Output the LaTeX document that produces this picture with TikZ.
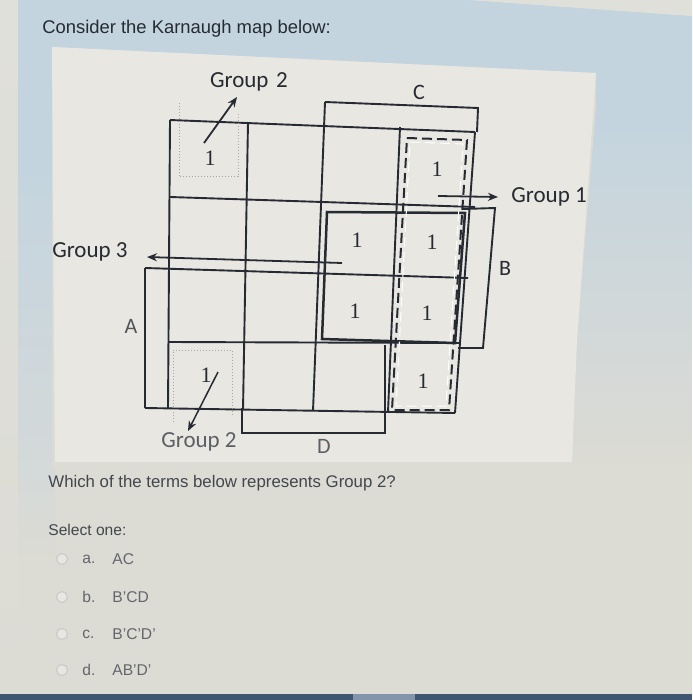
\documentclass[tikz,border=0pt]{standalone}
\usepackage{fontspec}
\setmainfont{Liberation Sans}
\newfontfamily\calfont{Carlito}
\newfontfamily\serfont{Liberation Serif}
\usetikzlibrary{arrows.meta}
\definecolor{ink}{HTML}{262B33}
\definecolor{pagegray}{HTML}{DCDBD4}
\definecolor{panel}{HTML}{E8E7E1}
\definecolor{skyblue}{HTML}{C3D4DF}
\definecolor{fadeblue}{HTML}{D4D9D9}
\definecolor{lightstrip}{HTML}{E0E0DB}
\definecolor{barblue}{HTML}{3E5671}
\definecolor{barlight}{HTML}{8295AA}
\definecolor{optgray}{HTML}{63676D}
\definecolor{qgray}{HTML}{42474E}
\tikzset{
  gline/.style={draw=ink, line width=0.95pt},
  gbox/.style={draw=ink, line width=1.25pt},
  dotbox/.style={draw=gray!70, line width=0.5pt, densely dotted},
  dashbox/.style={draw=ink, line width=1pt, dash pattern=on 5pt off 2.5pt},
  one/.style={font=\serfont\fontsize{11}{11}\selectfont, text=ink, inner sep=0pt},
  lbl/.style={font=\calfont\fontsize{11}{11}\selectfont, text=ink, inner sep=0pt},
  glbl/.style={font=\calfont\fontsize{11.5}{11.5}\selectfont, text=ink, inner sep=0pt},
  arr/.style={draw=ink, line width=0.9pt, -{Stealth[length=5pt,width=4pt]}},
  opt/.style={font=\fontsize{7.8}{8}\selectfont, text=optgray, inner sep=0pt, anchor=west},
  radio/.style={draw=gray!40, line width=0.6pt, fill=panel}
}
\begin{document}
\begin{tikzpicture}[x=0.5pt,y=-0.5pt]
\useasboundingbox (0,0) rectangle (692,700);
% background
\fill[pagegray] (0,0) rectangle (692,700);
\shade[top color=lightstrip, bottom color=pagegray] (0,0) rectangle (18,694);
\fill[skyblue] (18,0) -- (470,0) -- (692,16) -- (692,120) -- (596,110) -- (596,73) -- (52,47) -- (52,150) -- (18,150) -- cycle;
\shade[top color=skyblue, bottom color=fadeblue] (18,148) rectangle (52,470);
\shade[top color=fadeblue, bottom color=pagegray] (18,469) rectangle (55,560);
\shade[top color=skyblue, bottom color=pagegray] (596,108) -- (692,118) -- (692,470) -- (570,470) -- (577,340) -- cycle;
\fill[lightstrip] (470,0) -- (692,0) -- (692,16) -- cycle;
\fill[panel] (52,47) -- (596,73) -- (577,340) -- (572,462) -- (55,462) -- cycle;
\fill[barblue] (0,694) rectangle (692,700);
\fill[barlight] (353,694) rectangle (415,700);

% title
\node[font=\fontsize{9.2}{10}\selectfont, text=ink, anchor=west, inner sep=0pt] (title) at (42,29) {Consider the Karnaugh map below:};

% grid
\draw[gline] (170,120) -- (168,408);
\draw[gline] (248,122) -- (243,410);
\draw[gline] (325,102) -- (313,411);
\draw[gline] (400,127) -- (388,412);
\draw[gline] (475,132) -- (455,413);
\draw[gline] (170,120) -- (475,132);
\draw[gline] (170,197) -- (475,207);
\draw[gline] (145,268) -- (468,278);
\draw[gline] (168,342) -- (460,343);
\draw[gline] (145,408) -- (455,413);

% C box
\draw[gline] (325,102) -- (478,108) -- (477,132);
% A box
\draw[gline] (145,268) -- (145,408);
% B box
\draw[gline] (463,209) -- (495,208) -- (483,348) -- (458,348);
% D box
\draw[gline] (242,408) -- (242,433) -- (385,433) -- (385,345);

% Group 3 box
\draw[gbox] (327,212) -- (465,213) -- (455,343) -- (322,339) -- cycle;

% Group 1 dashed box
\draw[dashbox] (407,138) -- (467,140) -- (449,410) -- (392,410) -- cycle;
\draw[draw=white, line width=0.5pt, dash pattern=on 5pt off 2.5pt] (410,142) -- (463,144) -- (446,406) -- (396,406) -- cycle;

% Group 2 dotted boxes
\draw[dotbox] (179,103) -- (179,177) -- (238,177) -- (238,113);
\draw[dotbox] (173,422) -- (173,350) -- (232,350) -- (232,416);

% ones
\node[one] (o11) at (210,158) {1};
\node[one] (o14) at (437,169) {1};
\node[one] (o23) at (357,240) {1};
\node[one] (o24) at (432,242) {1};
\node[one] (o33) at (355,311) {1};
\node[one] (o34) at (427,313) {1};
\node[one] (o44) at (423,381) {1};
\node[one] (o41) at (206,375) {1};

% labels
\node[glbl] (g2t) at (249,82) {Group\,\,2};
\node[glbl, text=ink!75] (g2b) at (199,442) {Group 2};
\node[glbl, anchor=west] (g1) at (511,197) {Group 1};
\node[glbl, anchor=east] (g3) at (128,252) {Group 3};
\node[lbl] (lc) at (419,92) {C};
\node[lbl] (lb) at (505,268) {B};
\node[lbl, text=ink!80] (la) at (131,326) {A};
\node[lbl, text=ink!75] (ld) at (324,446) {D};

% arrows
\coordinate (a2s) at (204,143);
\coordinate (a2e) at (237,97);
\draw[arr] (a2s) -- (a2e);
\coordinate (b2s) at (218,372);
\coordinate (b2e) at (188,431);
\draw[arr, line width=0.75pt] (b2s) -- (b2e);
\coordinate (a1s) at (438,196);
\coordinate (a1e) at (498,197);
\draw[arr] (a1s) -- (a1e);
\coordinate (a3s) at (342,263);
\coordinate (a3e) at (147,257);
\draw[arr] (a3s) -- (a3e);

% question
\node[font=\fontsize{8.4}{9}\selectfont, text=qgray, anchor=west, inner sep=0pt] (q) at (48,483) {Which of the terms below represents Group 2?};
\node[font=\fontsize{7.8}{8}\selectfont, text=qgray, anchor=west, inner sep=0pt] (sel) at (48,530) {Select one:};

% options
\draw[radio] (62,559) circle (5.5);
\node[opt] (oa) at (82,559) {a.};
\node[opt] (oat) at (112,559) {AC};
\draw[radio] (62,597) circle (5.5);
\node[opt] (ob) at (82,597) {b.};
\node[opt] (obt) at (112,597) {B'CD};
\draw[radio] (62,634) circle (5.5);
\node[opt] (oc) at (82,634) {c.};
\node[opt] (oct) at (112,634) {B'C'D'};
\draw[radio] (62,670) circle (5.5);
\node[opt] (od) at (82,670) {d.};
\node[opt] (odt) at (112,670) {AB'D'};
\end{tikzpicture}
\end{document}
